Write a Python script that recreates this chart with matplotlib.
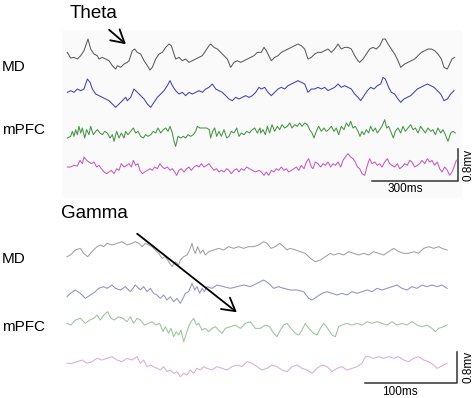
import numpy as np
import matplotlib
matplotlib.use("Agg")
import matplotlib.pyplot as plt

plt.rcParams['font.family'] = ['Liberation Sans', 'DejaVu Sans']

# 采样率 (samples / ms) 与增益 (mV / count)
FS_THETA = 0.86
FS_GAMMA = 2.76
GAIN_THETA = 0.8 / 96
GAIN_GAMMA = 0.8 / 93

# ---------------- Theta 段 (sample index, raw counts) ----------------
md_theta_idx = [1, 11, 21, 31, 41, 51, 63, 71, 81, 91, 96, 106, 116, 126, 136, 146, 151, 161, 171, 181,
                186, 191, 196, 203, 211, 221, 231, 241, 249, 256, 266, 276, 286, 296, 306, 313, 321, 326,
                336, 346, 356, 366, 376, 386, 396, 406, 416, 426, 431, 441, 451, 461, 471, 481, 491, 501,
                511, 521, 531, 541, 551, 561, 571,
                583, 591, 598, 603, 613, 623, 633, 643, 653, 663, 673, 683, 693, 703, 713, 723, 733, 743,
                753, 763, 773, 783, 793, 803, 813, 823, 833, 843, 853, 863, 873, 878, 888, 898, 908, 918,
                928, 938, 948, 955, 963, 973, 983, 993, 1001, 1013, 1023, 1033, 1043, 1053, 1063, 1073,
                1083, 1093, 1103, 1113, 1123, 1131, 1141, 1148, 1155, 1163]
md_theta = [10, -7, -5, -10, 0, 15, 50, 20, 5, 0, -10, -5, -10, -15, -30, -40, -30, -35, -25, -20,
            -15, 0, 15, 20, 10, 5, -15, -30, -43, -35, -10, 5, 10, 25, 35, 30, 5, -10,
            -5, -15, -10, -20, -15, -10, -5, 0, 15, 30, 35, 25, 20, 10, 0, -10, -35, -20,
            -15, -20, -15, -10, -5, 0, 10,
            10, 25, 15, 5, -15, -5, 0, 10, 15, 20, 25, 30, 35, 30, 20, -10, -5, 5,
            10, 10, 15, 20, 10, 20, 35, 20, 25, 25, 20, 0, -15, -20, -10, 5, 20, 25,
            20, 30, 50, 50, 35, 20, 5, -15, -35, -25, -20, -15, -10, 0, 10, 15,
            20, 20, 15, 5, -10, -35, -40, -25, -10, -5]

md2_theta_idx = [1, 11, 21, 31, 41, 51, 61, 69, 76, 86, 96, 106, 116, 126, 136, 146, 156, 166, 176, 181,
                 191, 201, 211, 221, 231, 241, 251, 261, 271, 281, 291, 301, 309, 316, 326, 336, 346, 356,
                 366, 376, 386, 396, 406, 416, 426, 436, 446, 456, 466, 476, 486, 496, 506, 516, 526, 536,
                 546, 556, 566, 576,
                 583, 593, 603, 613, 623, 633, 643, 653, 663, 673, 683, 693, 703, 713, 723, 733, 743, 753,
                 763, 773, 783, 793, 803, 813, 823, 833, 843, 853, 863, 873, 881, 891, 901, 911, 921, 931,
                 941, 948, 955, 965, 973, 983, 993, 1001, 1011, 1021, 1031, 1041, 1051, 1061, 1071, 1081,
                 1091, 1101, 1111, 1121, 1131, 1141, 1151, 1161]
md2_theta = [5, 10, 5, 15, 10, 15, 45, 35, 15, 0, -5, -10, -15, -20, -30, -40, -30, -20, -10, -20,
             -10, 15, 5, -5, -15, -30, -40, -25, -10, 0, 10, 25, 40, 25, 10, 0, 5, -5,
             5, 0, 5, 10, 5, 15, 20, 30, 15, 10, 5, -5, -15, -20, -10, -15, -10, -5,
             -10, -5, 5, 20,
             15, 20, 5, -5, 5, 15, 20, 15, 25, 30, 35, 40, 35, 30, 5, 15, 15, 20,
             15, 20, 10, 15, 20, 30, 20, 25, 20, 15, 0, -10, -20, -5, 10, 20, 15, 25,
             30, 50, 45, 20, 5, 0, -15, -25, -15, -10, -5, 5, 15, 20, 25, 30,
             25, 20, 10, 0, -20, -15, 0, 10]

pfc_theta_idx = [1, 11, 16, 21, 26, 31, 36, 41, 46, 53, 59, 66, 71, 79, 86, 91, 99, 106, 113, 121,
                 129, 136, 141, 149, 156, 163, 171, 176, 183, 191, 199, 206, 213, 221, 229, 236, 243, 251,
                 259, 266, 273, 281, 289, 296, 303, 309, 316, 321, 326, 333, 341, 349, 356, 363, 371, 379,
                 386, 391, 399, 409, 419, 427, 431, 437, 443, 449, 456, 463, 471, 479, 486, 493, 501, 509,
                 516, 523, 531, 539, 547, 556, 563, 571, 579,
                 581, 588, 595, 601, 608, 615, 623, 631, 638, 645, 653, 661, 668, 675, 683, 691, 698, 705,
                 713, 721, 728, 735, 741, 748, 755, 763, 771, 778, 785, 793, 801, 808, 815, 823, 831, 838,
                 845, 851, 858, 865, 873, 879, 885, 891, 898, 905, 911, 918, 925, 931, 938, 945, 953, 959,
                 965, 973, 979, 985, 993, 1001, 1008, 1015, 1023, 1031, 1038, 1045, 1053, 1061, 1068, 1075,
                 1083, 1091, 1098, 1105, 1113, 1121, 1128, 1135, 1143, 1151, 1158, 1165]
pfc_theta = [-15, -10, 5, -10, 10, -5, 20, 0, 15, -15, 10, -5, 20, -5, 5, 10, 0, -5, 5, 0,
             -15, -5, -25, 5, -15, 0, -15, 5, -5, 5, 15, 0, 5, -10, -15, -5, -10, -5,
             5, 0, 15, 0, 10, 15, 5, 20, 0, -25, -40, -10, -15, -10, -15, -5, -10, -5,
             5, 20, 15, 15, 15, 10, -15, 5, 15, -10, 5, -10, 10, -15, -10, 5, 0, 15,
             -10, 0, -5, 5, 0, 10, 15, 0, 15,
             0, 10, -5, 20, 0, 25, 5, 20, 10, 25, 15, 20, 30, 15, 25, 20, 30, 20,
             30, 25, 10, 0, -15, 5, 20, 5, 15, 5, 10, 20, 5, 15, -5, 20, 10, 30,
             20, 35, 15, 20, 5, -10, 5, -5, 10, 0, 20, 5, 15, 0, 10, 20, 40, 15,
             20, 0, -15, 5, 15, 0, 20, 5, 15, 25, 10, 15, 0, 20, 10, 0,
             15, 5, 10, -5, 15, 0, 10, -5, -25, 0, 5, 0]

pfc2_theta_idx = [1, 11, 21, 31, 39, 46, 51, 59, 66, 73, 81, 89, 96, 103, 111, 119, 126, 133, 141, 149,
                  156, 163, 171, 179, 186, 193, 199, 206, 213, 219, 226, 233, 241, 249, 256, 263, 271, 279,
                  286, 293, 301, 309, 316, 323, 329, 336, 343, 351, 359, 366, 373, 381, 389, 396, 403, 411,
                  419, 426, 433, 441, 449, 456, 463, 471, 479, 486, 493, 501, 509, 516, 523, 531, 539, 547,
                  556, 566, 576,
                  583, 591, 598, 605, 613, 621, 628, 635, 643, 651, 658, 665, 673, 681, 688, 695, 703, 711,
                  718, 725, 733, 738, 745, 753, 761, 768, 775, 783, 791, 798, 805, 813, 821, 828, 835, 843,
                  851, 858, 865, 871, 878, 885, 893, 901, 908, 915, 923, 931, 938, 945, 953, 961, 968, 975,
                  983, 991, 998, 1005, 1013, 1021, 1028, 1035, 1043, 1051, 1058, 1065, 1073, 1081, 1088, 1095,
                  1103, 1111, 1118, 1125, 1133, 1141, 1148, 1155, 1161, 1168]
pfc2_theta = [0, 0, 5, 3, 20, 10, 30, 20, 15, 10, 15, 0, 5, -5, -15, -20, -15, -10, -20, -5,
              -10, 10, 0, 5, 10, 0, 20, 5, 10, -10, -20, -15, -10, -5, -10, 0, -5, 10,
              0, -5, 0, -10, -5, -15, -25, -10, -5, -15, -5, 0, -10, 0, 5, 0, 10, 0,
              5, 10, 0, -10, -5, -15, -10, -15, -5, -10, -20, -10, -5, -15, -5, -10, 0, -5,
              -10, -15, -10,
              -15, -25, -15, -25, -10, -15, -5, -10, 0, -10, -5, -15, -10, -5, 0, -10, 5, -5,
              15, 25, 0, -5, 15, 10, 0, 10, 5, 15, 0, 10, 5, 15, 0, 20, 30, 40,
              30, 25, 15, 0, -5, -20, -25, 5, 25, 10, 15, 5, 10, 0, 15, 25, 10, 5,
              0, 10, -5, 0, 10, 5, 20, 15, 0, 5, 10, 20, 10, 25, 15, 20,
              5, 15, -5, -15, 0, -10, -25, -15, 0, 20]

# ---------------- Gamma 段 ----------------
md_gamma_idx = [0, 10, 25, 40, 50, 62, 75, 90, 100, 110, 120, 135, 150, 165, 180, 195, 205, 215, 225, 235,
                245, 255, 265, 275, 285, 295, 305, 315, 325, 335, 340, 350, 360, 368, 375, 380, 385, 392,
                400, 408, 415, 425, 440, 455, 470, 485, 500, 515, 530, 545, 560, 575, 590, 600, 612, 625,
                638, 650, 660, 670, 685, 700, 715, 730, 745, 760, 775, 790, 800, 815, 830, 845, 860, 875,
                890, 905, 920, 935, 950, 965, 980, 995, 1010, 1025, 1040, 1055, 1070, 1085, 1100, 1115,
                1125, 1140]
md_gamma = [-20, -15, 0, 5, -10, -20, -5, 10, 15, 10, 20, 15, 20, 25, 15, 20, 25, 20, 10, 20,
            15, 10, 0, -10, -25, -20, -35, -50, -35, -45, -30, -20, -15, 0, 20, 0, -10, 10,
            -10, 0, -15, -5, 0, 5, 0, 10, 5, 10, 5, 10, 10, 15, 25, 20, 5, 10,
            20, 10, 0, 5, 0, -5, -10, -25, -35, -30, -20, -10, -15, -10, -15, -5, -10, -15,
            -10, -15, -5, -10, -15, -5, 5, -5, -10, -10, -5, -10, 5, 10, 5, 10,
            5, 0]

md2_gamma_idx = [0, 10, 25, 40, 55, 70, 85, 95, 110, 120, 135, 145, 160, 175, 190, 205, 220, 230, 240, 250,
                 260, 270, 280, 290, 300, 310, 320, 330, 340, 348, 355, 365, 375, 383, 390, 398, 405, 412,
                 420, 435, 450, 470, 490, 510, 530, 550, 570, 590, 605, 620, 635, 650, 670, 690, 710, 725,
                 735, 750, 765, 780, 795, 810, 825, 840, 855, 870, 885, 900, 915, 930, 945, 960, 975, 990,
                 1005, 1020, 1035, 1050, 1065, 1080, 1095, 1110, 1125, 1140]
md2_gamma = [-20, -10, 0, -10, -25, -15, -5, 5, 10, 5, 15, 5, 0, 10, -5, 15, 0, 10, -5, 5,
             -10, -15, -25, -15, -30, -20, -35, -25, -40, -25, -10, -5, 20, 0, 10, -10, 5, -5,
             10, 5, 15, 10, 5, 10, 15, 10, 20, 30, 20, 5, 10, 5, 0, 0, -5, -25,
             -30, -20, -10, -5, -10, -15, -10, -15, -5, -10, -5, 0, -5, 5, 0, 5, 10, 15,
             5, 0, 10, 5, 15, 10, 15, 10, 15, 5]

pfc_gamma_idx = [0, 12, 25, 40, 55, 68, 80, 90, 100, 110, 122, 132, 142, 155, 168, 180, 190, 200, 210, 220,
                 232, 245, 255, 265, 278, 288, 295, 305, 312, 320, 328, 335, 342, 350, 358, 365, 372, 380,
                 388, 395, 405, 415, 425, 435, 445, 455, 465, 475, 490, 505, 520, 535, 550, 565, 580, 595,
                 608, 620, 630, 640, 650, 660, 672, 685, 695, 705, 715, 725, 740, 750, 760, 770, 782, 795,
                 805, 815, 825, 840, 855, 870, 885, 900, 915, 930, 945, 960, 975, 990, 1005, 1020, 1035,
                 1050, 1065, 1080, 1095, 1105, 1115, 1130, 1140]
pfc_gamma = [10, 5, 20, 25, 10, 20, 25, 35, 20, 35, 45, 25, 20, 30, 25, 15, 30, 10, 25, 20,
             5, 10, 15, 5, 10, -15, 0, -20, -5, -30, -15, -25, -10, -45, -20, 0, 15, 25,
             5, 10, -10, -5, -15, -5, 0, -10, -20, -5, 0, 5, -5, 10, 15, -5, -5, 5,
             0, -20, -30, -10, 5, 10, -5, -20, -25, -10, 10, -5, -20, -25, -5, 10, -5, -25,
             -30, 0, 5, 10, 5, 10, 5, 15, 10, 15, 10, 5, 15, 5, 10, 5, 15,
             5, 0, 5, -5, -15, -5, 0, 5]

pfc2_gamma_idx = [0, 15, 30, 45, 60, 75, 90, 105, 120, 135, 150, 165, 180, 195, 210, 220, 230, 240, 250, 260,
                  270, 280, 290, 300, 310, 320, 330, 340, 350, 360, 370, 380, 390, 400, 410, 420, 435, 450,
                  465, 480, 495, 510, 525, 540, 555, 570, 585, 600, 615, 630, 645, 660, 675, 690, 705, 720,
                  735, 750, 765, 780, 795, 810, 825, 840, 855, 870, 885, 895, 905, 920, 935, 950, 965, 980,
                  995, 1010, 1025, 1040, 1055, 1070, 1085, 1100, 1110, 1120, 1130, 1140]
pfc2_gamma = [5, 5, 10, 15, 5, 10, 20, 15, 20, 25, 15, 10, 20, 15, 25, 5, 15, -5, 0, -5,
              -10, -15, -5, -20, -15, -25, -20, -35, -25, -30, -15, -25, -10, -15, -5, -10, -15, -5,
              -10, -15, -5, 0, -5, 10, 5, -5, -15, -10, 0, -5, -15, -20, -5, 0, -10, -15,
              -25, -10, 0, -5, -20, -10, -5, -15, -10, -5, 5, 25, 25, 20, 25, 20, 25, 20,
              25, 15, 10, 20, 25, 15, 10, 0, -10, -5, 0, 5]

labels = ['MD', 'mPFC']
theta_colors = ['#5a5a5a', '#4040b0', '#449444', '#c458c4']
gamma_colors = ['#a0a0a0', '#9090c8', '#98c598', '#dcaadc']

W, H = 474, 398
fig = plt.figure(figsize=(W / 100, H / 100), dpi=100)


def fx(px):
    return px / W


def fy(py):
    return 1 - py / H


def panel(top_px, bottom_px, fs, gain, traces, colors, bases_px, face):
    ax = fig.add_axes([fx(62), fy(bottom_px), fx(400), (bottom_px - top_px) / H])
    ms_per_px = 3 / fs
    mv_per_px = 3 * gain
    ax.set_xlim(-5 * ms_per_px, 395 * ms_per_px)
    ax.set_ylim(-(bottom_px - top_px) * mv_per_px, 0)
    ax.set_facecolor(face)
    for sp in ax.spines.values():
        sp.set_visible(False)
    ax.set_xticks([])
    ax.set_yticks([])
    for (idx, vals), c, b in zip(traces, colors, bases_px):
        t = np.array(idx) / fs
        v = np.array(vals) * gain - (b - top_px) * mv_per_px
        ax.plot(t, v, color=c, lw=0.75)
    return ax, ms_per_px, mv_per_px


# Theta 面板
ax1, ms1, mv1 = panel(30, 198, FS_THETA, GAIN_THETA,
                      [(md_theta_idx, md_theta), (md2_theta_idx, md2_theta),
                       (pfc_theta_idx, pfc_theta), (pfc2_theta_idx, pfc2_theta)],
                      theta_colors, [55.7, 94, 133, 167], '#fafafa')
x0 = (372 - 67) * ms1
y0 = -(181 - 30) * mv1
ax1.plot([x0, x0 + 300, x0 + 300], [y0, y0, y0 + 0.8], color='#333333', lw=1.1, clip_on=False)

# Gamma 面板
ax2, ms2, mv2 = panel(230, 398, FS_GAMMA, GAIN_GAMMA,
                      [(md_gamma_idx, md_gamma), (md2_gamma_idx, md2_gamma),
                       (pfc_gamma_idx, pfc_gamma), (pfc2_gamma_idx, pfc2_gamma)],
                      gamma_colors, [250, 290, 326.7, 365], 'white')
x0 = (365 - 67) * ms2
y0 = -(383 - 230) * mv2
ax2.plot([x0, x0 + 100, x0 + 100], [y0, y0, y0 + 0.8], color='#333333', lw=1.1, clip_on=False)

# 文字标注
fig.text(fx(70), fy(13), 'Theta', fontsize=13.5, va='center', ha='left')
fig.text(fx(61), fy(213), 'Gamma', fontsize=13.5, va='center', ha='left')
for y in (67, 259):
    fig.text(fx(2), fy(y), labels[0], fontsize=11, va='center', ha='left')
for y in (130, 327):
    fig.text(fx(2), fy(y), labels[1], fontsize=11, va='center', ha='left')
fig.text(fx(405), fy(189), '300ms', fontsize=8.5, va='center', ha='center')
fig.text(fx(400), fy(392), '100ms', fontsize=8.5, va='center', ha='center')
fig.text(fx(468), fy(165), '0.8mv', fontsize=8.5, va='center', ha='center', rotation=90)
fig.text(fx(468), fy(367), '0.8mv', fontsize=8.5, va='center', ha='center', rotation=90)

# 箭头
for (xa, ya), (xb, yb) in [((107, 28), (128, 46)), ((135, 232), (239, 314))]:
    fig.add_artist(matplotlib.patches.FancyArrowPatch(
        (fx(xa), fy(ya)), (fx(xb), fy(yb)), transform=fig.transFigure,
        arrowstyle='->,head_length=0.7,head_width=0.4', color='black', lw=1.3,
        mutation_scale=13))

fig.savefig('out.png', dpi=100)
